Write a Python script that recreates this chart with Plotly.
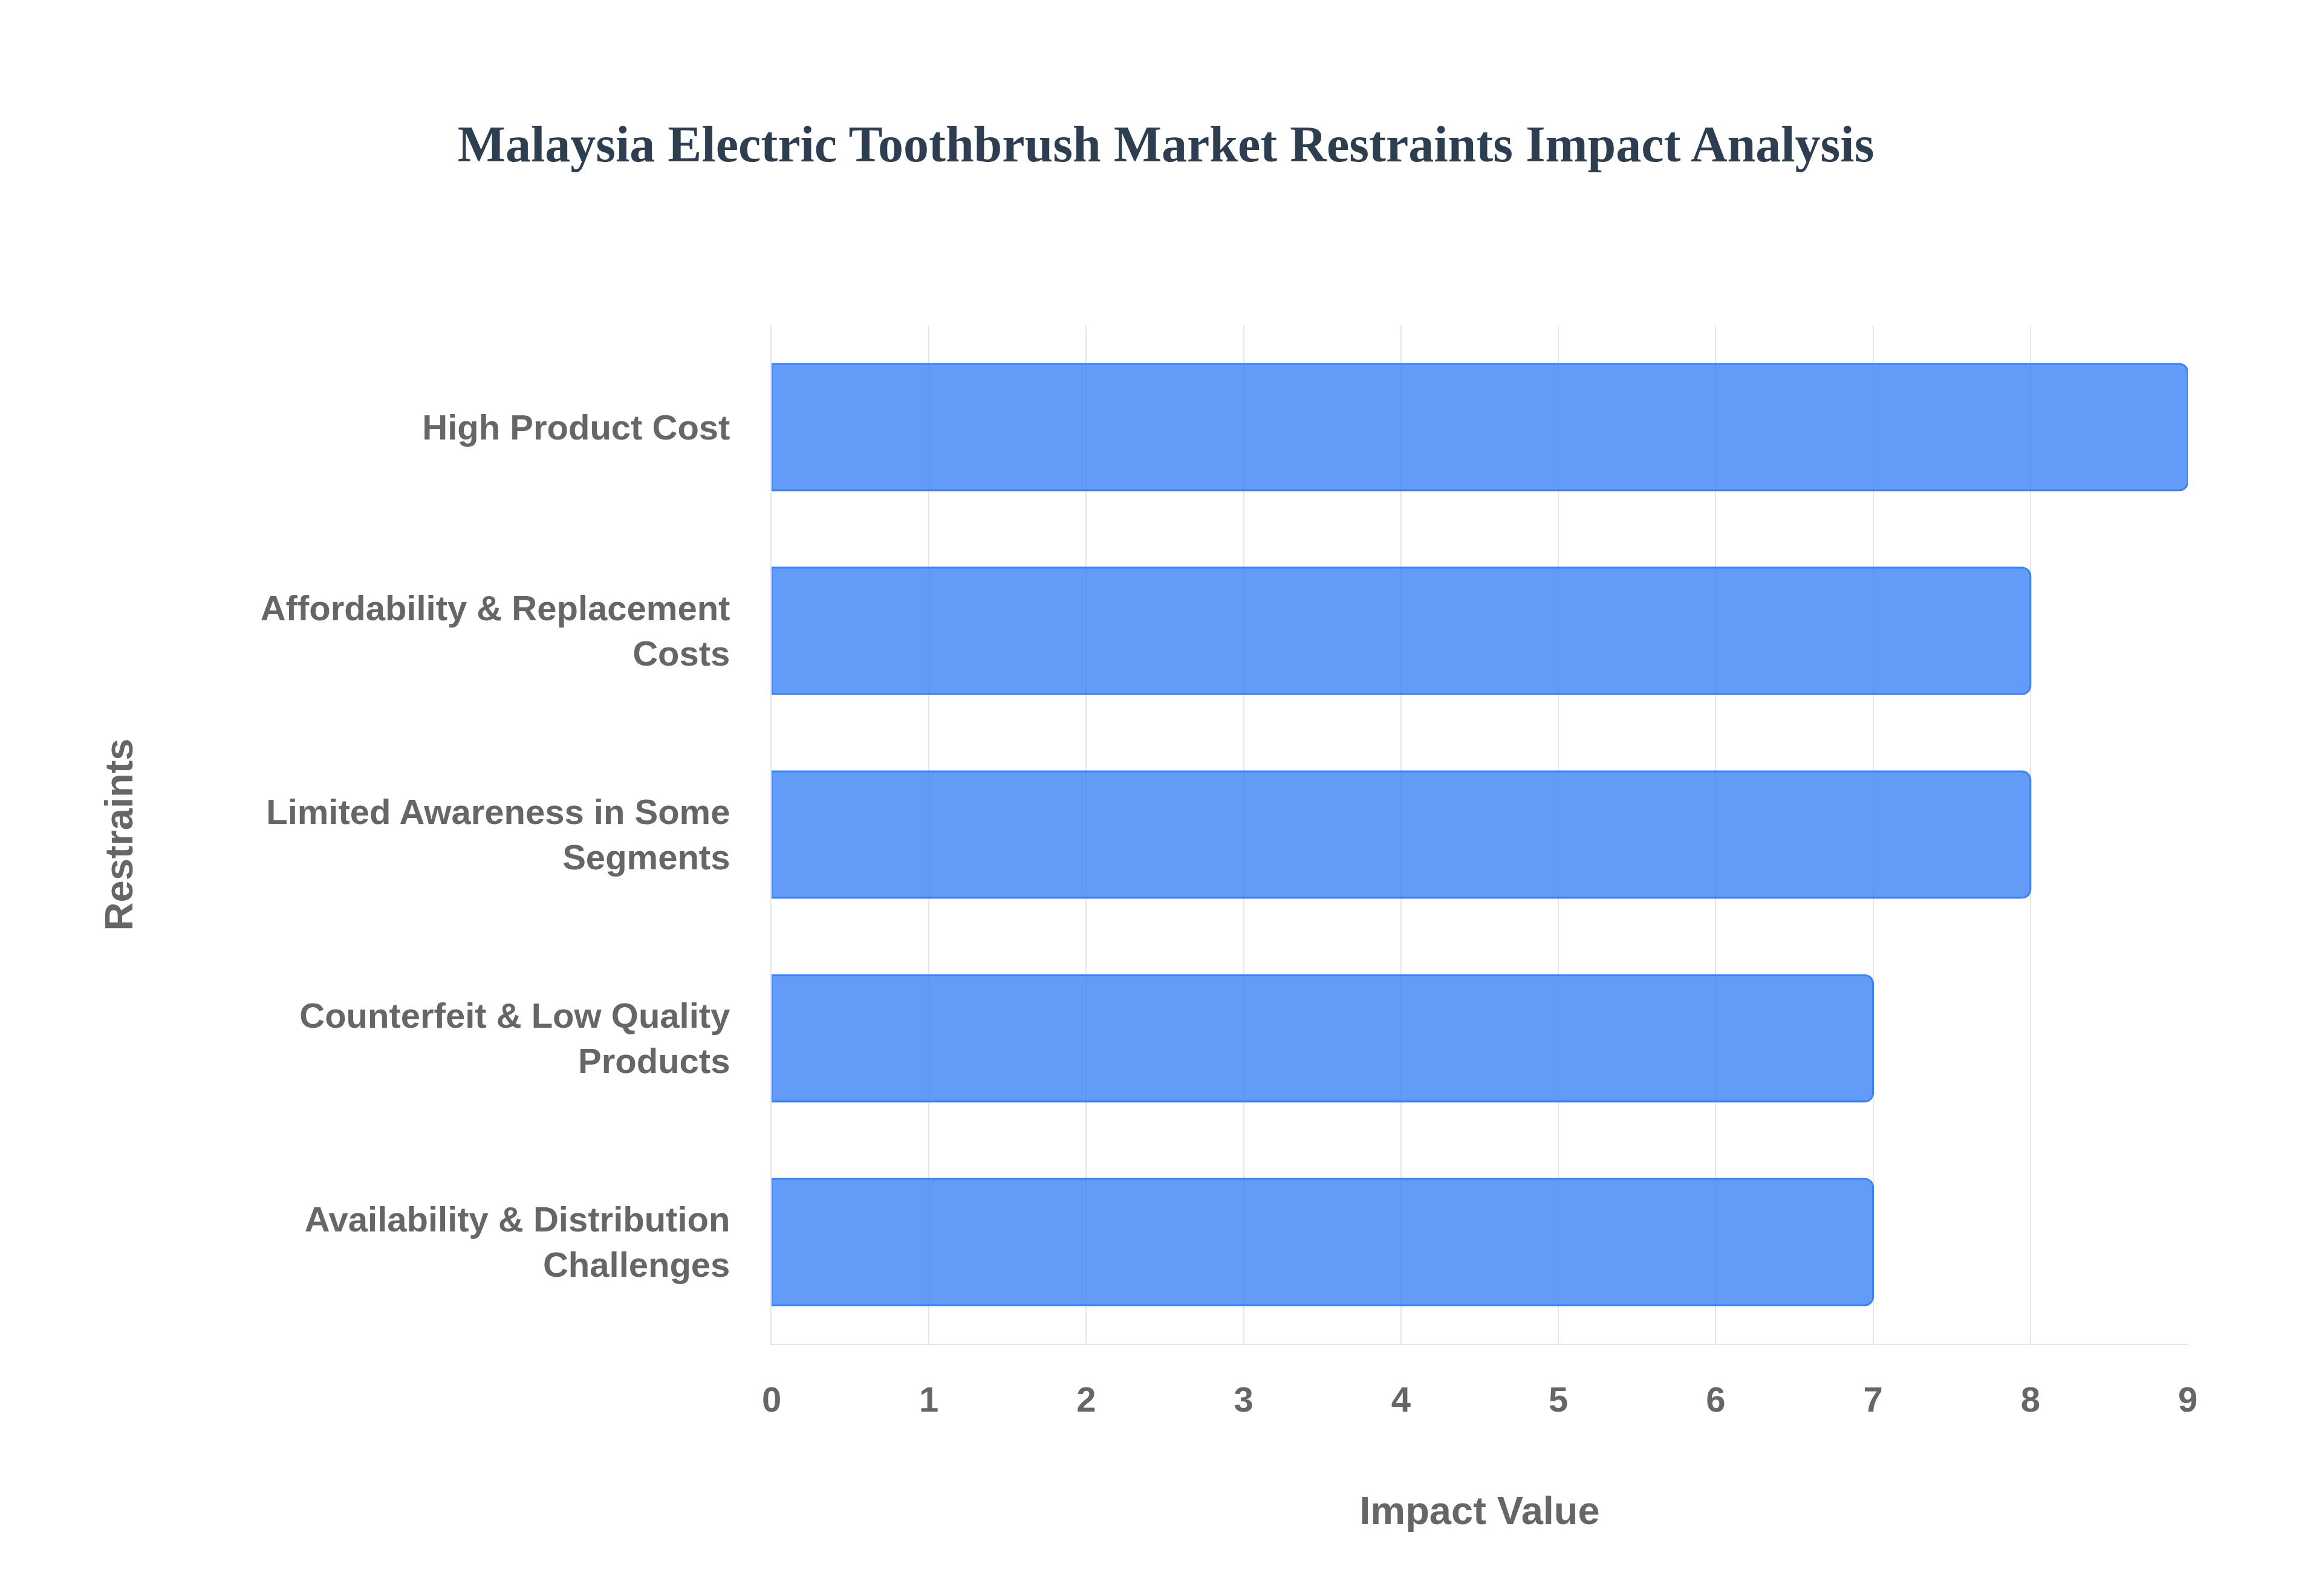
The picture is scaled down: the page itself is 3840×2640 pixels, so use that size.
import plotly.graph_objects as go

restraints = [
    "High Product Cost",
    "Affordability & Replacement<br>Costs",
    "Limited Awareness in Some<br>Segments",
    "Counterfeit & Low Quality<br>Products",
    "Availability & Distribution<br>Challenges",
]
impact = [9, 8, 8, 7, 7]

fig = go.Figure()
fig.add_trace(go.Bar(
    x=impact,
    y=restraints,
    orientation="h",
    marker=dict(color="rgba(59,130,246,0.8)",
                line=dict(color="rgb(59,130,246)", width=3),
                cornerradius=14),
    hoverinfo="x+y",
))

axis_font = dict(family="Liberation Sans, Arial", size=58, color="#666666")

fig.update_layout(
    width=3840, height=2640,
    paper_bgcolor="white", plot_bgcolor="white",
    margin=dict(l=1268, r=230, t=530, b=425),
    bargap=0.38,
    showlegend=False,
    title=dict(text="<b>Malaysia Electric Toothbrush Market Restraints Impact Analysis</b>",
               x=0.5, xanchor="center", y=0.913, yanchor="middle",
               font=dict(family="Liberation Serif, Times New Roman", size=84, color="#2c3e50")),
    xaxis=dict(
        range=[0, 9], dtick=1,
        showgrid=True, gridcolor="#e5e5e5", gridwidth=2,
        zeroline=False, showline=True, linecolor="#e5e5e5", linewidth=2,
        ticks="", ticklabelstandoff=40,
        tickfont=axis_font,
        title=dict(text="<b>Impact Value</b>", standoff=130,
                   font=dict(family="Liberation Sans, Arial", size=65, color="#666666")),
    ),
    yaxis=dict(
        autorange="reversed",
        showgrid=False, showline=True, linecolor="#e5e5e5", linewidth=2,
        ticks="", ticklabelstandoff=55,
        tickfont=axis_font,
        title=dict(text="<b>Restraints</b>", standoff=190,
                   font=dict(family="Liberation Sans, Arial", size=65, color="#666666")),
    ),
)
fig.update_xaxes(tickprefix="<b>", ticksuffix="</b>")
fig.update_yaxes(tickprefix="<b>", ticksuffix="</b>")

fig.write_html("out.html")
